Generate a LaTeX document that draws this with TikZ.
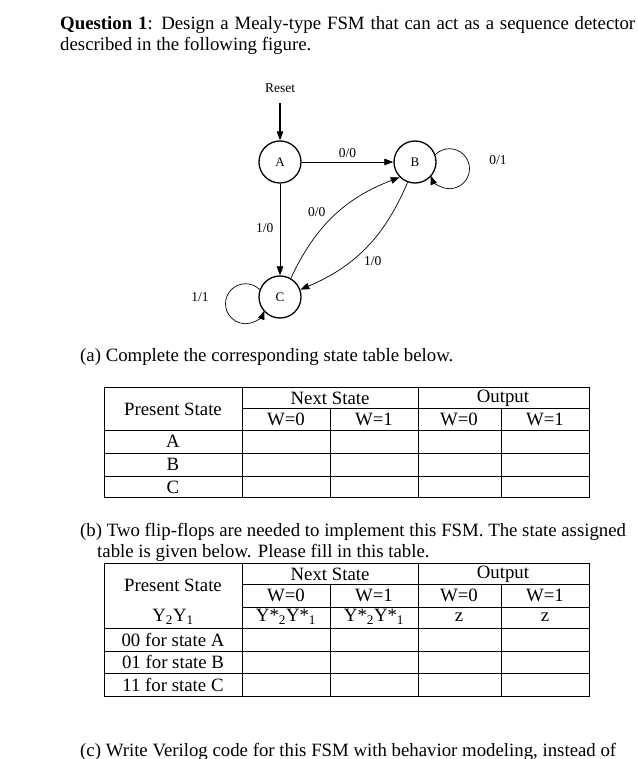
\documentclass[tikz,border=0pt]{standalone}
\usepackage{fontspec}
\setmainfont{Liberation Serif}
\usetikzlibrary{arrows.meta}
\begin{document}
\begin{tikzpicture}[x=1pt,y=-1pt,
  st/.style={circle,draw,line width=1.3pt,minimum size=42pt,inner sep=0pt,font=\fontsize{13}{14}\selectfont},
  lab/.style={font=\fontsize{13.5}{14}\selectfont},
  body/.style={font=\fontsize{18.8}{22}\selectfont,anchor=base west,inner sep=0pt},
  cell/.style={font=\fontsize{18.8}{20}\selectfont,inner sep=0pt},
  ar/.style={-{Triangle[length=9pt,width=6.5pt]},line width=0.7pt},
  grid/.style={line width=0.6pt}]
\useasboundingbox (0,0) rectangle (637,759);
\fill[white] (0,0) rectangle (637,759);
\node[body] (q1) at (60,30) {\makebox[575pt][s]{\textbf{Question 1}: Design a Mealy-type FSM that can act as a sequence detector}};
\node[body] (q2) at (60,51) {described in the following figure.};
% FSM
\node[lab] (reset) at (280,88) {Reset};
\node[st] (A) at (280,162) {A};
\node[st] (B) at (415,162) {B};
\node[st] (C) at (280,297) {C};
\draw[ar,line width=1.1pt] (reset.south)++(0,7) coordinate (r0) (r0) -- (A);
\draw[ar] (A) -- node[lab,above=1pt] {0/0} (B);
\draw[ar] (A) -- node[lab,left=3pt,pos=0.48] {1/0} (C);
\draw[ar] (C.60) to[bend left=22] node[lab,above left=0pt,pos=0.45] {0/0} (B.225);
\draw[ar] (B.250) to[bend left=22] node[lab,below right=0pt,pos=0.55] {1/0} (C.20);
\draw[ar] (B.20) arc[start angle=135,end angle=-160,radius=20pt];
\draw[ar] (C.160) arc[start angle=45,end angle=340,radius=20pt];
\node[lab] (l01) at (498,160) {0/1};
\node[lab] (l11) at (200,297) {1/1};
% (a)
\node[body] (pa) at (80,361) {(a) Complete the corresponding state table below.};
\draw[grid] (104,387) rectangle (589,497);
\foreach \y in {430,453,476} \draw[grid] (104,\y) -- (589,\y);
\draw[grid] (242,408) -- (589,408);
\draw[grid] (242,387) -- (242,497);
\draw[grid] (418,387) -- (418,497);
\draw[grid] (330,408) -- (330,497);
\draw[grid] (501,408) -- (501,497);
\node[cell] (t1) at (173,409) {Present State};
\node[cell] (t2) at (330,398) {Next State};
\node[cell] (t3) at (503,398) {Output};
\node[cell] (t4) at (286,419) {W=0};
\node[cell] (t5) at (374,419) {W=1};
\node[cell] (t6) at (459,419) {W=0};
\node[cell] (t7) at (545,419) {W=1};
\node[cell] (ta) at (173,441) {A};
\node[cell] (tb) at (173,464) {B};
\node[cell] (tc) at (173,487) {C};
% (b)
\node[body] (pb1) at (80,536) {(b) Two flip-flops are needed to implement this FSM. The state assigned};
\node[body] (pb2) at (97,557) {table is given below. Please fill in this table.};
\draw[grid] (104,563) rectangle (589,696);
\foreach \y in {628,651,673} \draw[grid] (104,\y) -- (589,\y);
\draw[grid] (242,584) -- (589,584);
\draw[grid] (242,607) -- (589,607);
\draw[grid] (242,563) -- (242,696);
\draw[grid] (418,563) -- (418,696);
\draw[grid] (330,584) -- (330,696);
\draw[grid] (501,584) -- (501,696);
\node[cell] (u1) at (173,585) {Present State};
\node[cell] (u2) at (330,574) {Next State};
\node[cell] (u3) at (503,574) {Output};
\node[cell] (u4) at (286,595) {W=0};
\node[cell] (u5) at (374,595) {W=1};
\node[cell] (u6) at (459,595) {W=0};
\node[cell] (u7) at (545,595) {W=1};
\node[cell] (u8) at (173,617) {Y\textsubscript{2}Y\textsubscript{1}};
\node[cell] (u9) at (286,617) {Y*\textsubscript{2}Y*\textsubscript{1}};
\node[cell] (u10) at (374,617) {Y*\textsubscript{2}Y*\textsubscript{1}};
\node[cell] (u11) at (459,617) {z};
\node[cell] (u12) at (545,617) {z};
\node[cell] (u13) at (173,640) {00 for state A};
\node[cell] (u14) at (173,662) {01 for state B};
\node[cell] (u15) at (173,685) {11 for state C};
\node[body] (pc) at (80,756) {(c) Write Verilog code for this FSM with behavior modeling, instead of};
\end{tikzpicture}
\end{document}
